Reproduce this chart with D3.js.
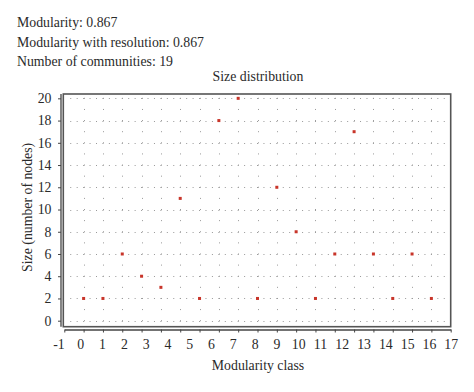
<!DOCTYPE html>
<html>
<head>
<meta charset="utf-8">
<script src="https://cdn.jsdelivr.net/npm/d3@7"></script>
<style>
  html, body { margin: 0; padding: 0; background: #fff; }
  svg { display: block; }
  text { font-family: "Liberation Serif", "DejaVu Serif", serif; fill: #2a2a2a; }
</style>
</head>
<body>
<svg id="chart" width="474" height="392"></svg>
<script>
// ---- data ----
const infoLines = ["Modularity: 0.867", "Modularity with resolution: 0.867", "Number of communities: 19"];
const chartTitle = "Size distribution";
const xTitle = "Modularity class";
const yTitle = "Size (number of nodes)";
const classes = d3.range(0, 19);                 // 19 communities
const sizes = [2, 2, 6, 4, 3, 11, 2, 18, 20, 2, 12, 8, 2, 6, 17, 6, 2, 6, 2];
const xTickLabels = d3.range(-1, 18);            // -1 .. 17
const yTickValues = [0, 2, 4, 6, 8, 10, 12, 14, 16, 18, 20];

// ---- layout ----
const svg = d3.select("#chart");
const pLeft = 63.3, pRight = 450.7, pTop = 94, pBottom = 326.7;
const fs = 13.8;

const x = d3.scaleLinear().domain([-1, 19]).range([pLeft + 1, pRight]);
const y = d3.scaleLinear().domain([-0.54, 20.39]).range([pBottom, pTop]);
const xl = d3.scalePoint().domain(xTickLabels).range([58.5, 450.7]);

// info text
svg.selectAll("text.info").data(infoLines).enter().append("text")
  .attr("class", "info")
  .attr("x", 17).attr("y", (d, i) => 27.3 + i * 19.4)
  .attr("font-size", fs)
  .text(d => d);

svg.append("text").attr("x", 258).attr("y", 80.5)
  .attr("text-anchor", "middle").attr("font-size", fs).text(chartTitle);

// grid
const grid = svg.append("g").attr("stroke", "#999").attr("stroke-width", 1);
const unit = y(0) - y(1);
grid.selectAll("line.v").data(classes).enter().append("line")
  .attr("x1", d => Math.round(x(d)) + 0.5).attr("x2", d => Math.round(x(d)) + 0.5)
  .attr("y1", y(20) - 0.5).attr("y2", y(0) + 0.6)
  .attr("stroke-dasharray", `1,${unit - 1}`);
const hStep = (x(1) - x(0)) / 3;
grid.selectAll("line.h").data(d3.range(0, 21, 2)).enter().append("line")
  .attr("y1", d => Math.round(y(d)) + 0.5).attr("y2", d => Math.round(y(d)) + 0.5)
  .attr("x1", x(-1) + hStep - 0.5).attr("x2", x(19) - 2)
  .attr("stroke-dasharray", `1,${hStep - 1}`);

// frame
svg.append("rect")
  .attr("x", pLeft).attr("y", pTop)
  .attr("width", pRight - pLeft).attr("height", pBottom - pTop)
  .attr("fill", "none").attr("stroke", "#555").attr("stroke-width", 1.6);

// points
svg.selectAll("rect.pt").data(classes).enter().append("rect")
  .attr("class", "pt")
  .attr("x", d => x(d) - 1.5).attr("y", d => y(sizes[d]) - 1.5)
  .attr("width", 3).attr("height", 3)
  .attr("fill", "#c8352a");

// x axis (ticks)
const gxt = svg.append("g").attr("transform", "translate(0,329.5)")
  .call(d3.axisBottom(x).tickValues(d3.range(-1, 20)).tickFormat("").tickSize(3).tickSizeOuter(0));
gxt.select(".domain").attr("stroke", "#444").attr("stroke-width", 1.3);
gxt.selectAll(".tick line").attr("stroke", "#444");

// x axis labels
const gxl = svg.append("g").attr("transform", "translate(0,339.5)")
  .call(d3.axisBottom(xl).tickSize(0).tickPadding(0));
gxl.select(".domain").remove();
gxl.selectAll("text").attr("font-family", "Liberation Serif, DejaVu Serif, serif")
  .attr("font-size", fs).attr("fill", "#2a2a2a");

// y axis
const gy = svg.append("g").attr("transform", "translate(61,0)")
  .call(d3.axisLeft(y).tickValues(yTickValues).tickSize(3).tickPadding(6.5).tickSizeOuter(0));
gy.select(".domain").attr("stroke", "#444").attr("stroke-width", 1.3)
  .attr("d", `M0,${pTop}V${pBottom}`);
gy.selectAll(".tick line").attr("stroke", "#444");
gy.selectAll("text").attr("font-family", "Liberation Serif, DejaVu Serif, serif")
  .attr("font-size", fs).attr("fill", "#2a2a2a");

// axis titles
svg.append("text").attr("x", 258).attr("y", 370)
  .attr("text-anchor", "middle").attr("font-size", fs).text(xTitle);
svg.append("text")
  .attr("transform", `translate(32,${(pTop + pBottom) / 2 - 3}) rotate(-90)`)
  .attr("text-anchor", "middle").attr("font-size", fs).text(yTitle);
</script>
</body>
</html>
